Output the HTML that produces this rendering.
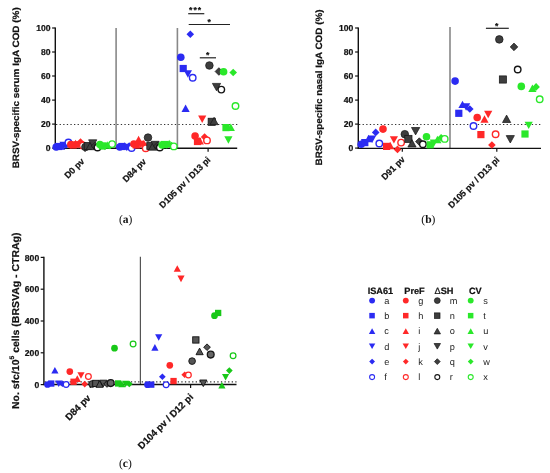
<!DOCTYPE html>
<html><head><meta charset="utf-8"><style>
html,body{margin:0;padding:0;background:#fff;}
svg{display:block;} text{text-rendering:geometricPrecision;}
</style></head><body>
<svg width="550" height="473" viewBox="0 0 550 473">
<rect width="550" height="473" fill="#fff"/>
<line x1="55.3" y1="27.5" x2="55.3" y2="148.6" stroke="#111" stroke-width="1.4"/>
<line x1="52.1" y1="28.0" x2="55.3" y2="28.0" stroke="#111" stroke-width="1.2"/>
<text x="50.6" y="31.1" text-anchor="end" font-size="8.6" font-weight="bold" font-family="Liberation Sans, Arial, sans-serif" fill="#111" stroke="#111" stroke-width="0.22">100</text>
<line x1="52.1" y1="52.0" x2="55.3" y2="52.0" stroke="#111" stroke-width="1.2"/>
<text x="50.6" y="55.1" text-anchor="end" font-size="8.6" font-weight="bold" font-family="Liberation Sans, Arial, sans-serif" fill="#111" stroke="#111" stroke-width="0.22">80</text>
<line x1="52.1" y1="76.0" x2="55.3" y2="76.0" stroke="#111" stroke-width="1.2"/>
<text x="50.6" y="79.1" text-anchor="end" font-size="8.6" font-weight="bold" font-family="Liberation Sans, Arial, sans-serif" fill="#111" stroke="#111" stroke-width="0.22">60</text>
<line x1="52.1" y1="100.1" x2="55.3" y2="100.1" stroke="#111" stroke-width="1.2"/>
<text x="50.6" y="103.2" text-anchor="end" font-size="8.6" font-weight="bold" font-family="Liberation Sans, Arial, sans-serif" fill="#111" stroke="#111" stroke-width="0.22">40</text>
<line x1="52.1" y1="124.1" x2="55.3" y2="124.1" stroke="#111" stroke-width="1.2"/>
<text x="50.6" y="127.2" text-anchor="end" font-size="8.6" font-weight="bold" font-family="Liberation Sans, Arial, sans-serif" fill="#111" stroke="#111" stroke-width="0.22">20</text>
<line x1="52.1" y1="148.1" x2="55.3" y2="148.1" stroke="#111" stroke-width="1.2"/>
<text x="50.6" y="151.2" text-anchor="end" font-size="8.6" font-weight="bold" font-family="Liberation Sans, Arial, sans-serif" fill="#111" stroke="#111" stroke-width="0.22">0</text>
<line x1="116.1" y1="28" x2="116.1" y2="148" stroke="#888" stroke-width="1.6"/>
<line x1="177.4" y1="28" x2="177.4" y2="148" stroke="#888" stroke-width="1.6"/>
<line x1="56" y1="124.5" x2="238" y2="124.5" stroke="#333" stroke-width="1.2" stroke-dasharray="1.3 2.3"/>
<line x1="54.6" y1="148.2" x2="237.2" y2="148.2" stroke="#111" stroke-width="1.4"/>
<line x1="85.0" y1="148" x2="85.0" y2="151.8" stroke="#111" stroke-width="1.2"/>
<line x1="146.8" y1="148" x2="146.8" y2="151.8" stroke="#111" stroke-width="1.2"/>
<line x1="208.1" y1="148" x2="208.1" y2="151.8" stroke="#111" stroke-width="1.2"/>
<circle cx="56.2" cy="147.0" r="3.80" fill="#2b2bf2"/>
<rect x="55.0" y="142.9" width="7.2" height="7.2" fill="#2b2bf2"/>
<polygon points="61.1,142.3 65.2,149.7 57.0,149.7" fill="#2b2bf2"/>
<polygon points="59.4,141.8 67.6,141.8 63.5,149.2" fill="#2b2bf2"/>
<polygon points="65.9,141.2 69.7,145.0 65.9,148.8 62.1,145.0" fill="#2b2bf2"/>
<circle cx="68.4" cy="142.5" r="3.25" fill="#fff" stroke="#2b2bf2" stroke-width="1.40"/>
<circle cx="70.8" cy="144.5" r="3.80" fill="#ff2828"/>
<rect x="69.6" y="141.4" width="7.2" height="7.2" fill="#ff2828"/>
<polygon points="75.6,139.8 79.7,147.2 71.5,147.2" fill="#ff2828"/>
<polygon points="74.0,141.3 82.2,141.3 78.1,148.7" fill="#ff2828"/>
<polygon points="80.5,138.2 84.3,142.0 80.5,145.8 76.7,142.0" fill="#ff2828"/>
<circle cx="82.9" cy="145.5" r="3.25" fill="#fff" stroke="#ff2828" stroke-width="1.40"/>
<circle cx="85.4" cy="147.0" r="3.80" fill="#3e3e3e" stroke="#151515" stroke-width="0.7"/>
<rect x="84.2" y="142.4" width="7.2" height="7.2" fill="#3e3e3e" stroke="#151515" stroke-width="0.7"/>
<polygon points="90.2,142.3 94.3,149.7 86.1,149.7" fill="#3e3e3e" stroke="#151515" stroke-width="0.7"/>
<polygon points="88.6,139.8 96.8,139.8 92.7,147.2" fill="#3e3e3e" stroke="#151515" stroke-width="0.7"/>
<polygon points="95.1,142.2 98.9,146.0 95.1,149.8 91.3,146.0" fill="#3e3e3e" stroke="#151515" stroke-width="0.7"/>
<circle cx="97.5" cy="147.5" r="3.25" fill="#fff" stroke="#151515" stroke-width="1.40"/>
<circle cx="99.9" cy="144.5" r="3.80" fill="#2ae82a"/>
<rect x="98.8" y="142.4" width="7.2" height="7.2" fill="#2ae82a"/>
<polygon points="100.7,142.8 108.9,142.8 104.8,150.2" fill="#2ae82a"/>
<polygon points="107.2,141.3 111.3,148.7 103.1,148.7" fill="#2ae82a"/>
<polygon points="109.7,141.7 113.5,145.5 109.7,149.3 105.9,145.5" fill="#2ae82a"/>
<circle cx="112.1" cy="144.1" r="3.25" fill="#fff" stroke="#2ae82a" stroke-width="1.40"/>
<circle cx="119.8" cy="147.0" r="3.80" fill="#2b2bf2"/>
<rect x="118.5" y="142.9" width="7.2" height="7.2" fill="#2b2bf2"/>
<polygon points="124.5,142.3 128.6,149.7 120.4,149.7" fill="#2b2bf2"/>
<polygon points="122.8,143.8 130.9,143.8 126.8,151.2" fill="#2b2bf2"/>
<polygon points="129.2,142.2 133.0,146.0 129.2,149.8 125.4,146.0" fill="#2b2bf2"/>
<circle cx="131.6" cy="148.0" r="3.25" fill="#fff" stroke="#2b2bf2" stroke-width="1.40"/>
<circle cx="133.9" cy="144.0" r="3.80" fill="#ff2828"/>
<rect x="132.7" y="141.4" width="7.2" height="7.2" fill="#ff2828"/>
<polygon points="138.6,135.8 142.7,143.2 134.5,143.2" fill="#ff2828"/>
<polygon points="136.8,140.8 145.0,140.8 140.9,148.2" fill="#ff2828"/>
<polygon points="143.3,140.2 147.1,144.0 143.3,147.8 139.5,144.0" fill="#ff2828"/>
<circle cx="145.7" cy="148.2" r="3.25" fill="#fff" stroke="#ff2828" stroke-width="1.40"/>
<circle cx="148.0" cy="137.6" r="3.80" fill="#3e3e3e" stroke="#151515" stroke-width="0.7"/>
<rect x="146.8" y="142.4" width="7.2" height="7.2" fill="#3e3e3e" stroke="#151515" stroke-width="0.7"/>
<polygon points="152.7,142.8 156.8,150.2 148.6,150.2" fill="#3e3e3e" stroke="#151515" stroke-width="0.7"/>
<polygon points="151.0,141.3 159.2,141.3 155.1,148.7" fill="#3e3e3e" stroke="#151515" stroke-width="0.7"/>
<polygon points="157.4,142.2 161.2,146.0 157.4,149.8 153.6,146.0" fill="#3e3e3e" stroke="#151515" stroke-width="0.7"/>
<circle cx="159.8" cy="147.5" r="3.25" fill="#fff" stroke="#151515" stroke-width="1.40"/>
<circle cx="162.1" cy="145.0" r="3.80" fill="#2ae82a"/>
<rect x="160.8" y="140.9" width="7.2" height="7.2" fill="#2ae82a"/>
<polygon points="162.7,141.3 170.9,141.3 166.8,148.7" fill="#2ae82a"/>
<polygon points="169.2,139.8 173.2,147.2 165.1,147.2" fill="#2ae82a"/>
<polygon points="171.5,141.7 175.3,145.5 171.5,149.3 167.7,145.5" fill="#2ae82a"/>
<circle cx="173.8" cy="146.4" r="3.25" fill="#fff" stroke="#2ae82a" stroke-width="1.40"/>
<circle cx="180.8" cy="57.2" r="3.80" fill="#2b2bf2"/>
<rect x="179.6" y="64.9" width="7.2" height="7.2" fill="#2b2bf2"/>
<polygon points="185.6,104.5 189.7,111.9 181.5,111.9" fill="#2b2bf2"/>
<polygon points="183.8,70.3 192.0,70.3 187.9,77.7" fill="#2b2bf2"/>
<polygon points="190.3,30.4 194.1,34.2 190.3,38.0 186.5,34.2" fill="#2b2bf2"/>
<circle cx="192.7" cy="77.8" r="3.25" fill="#fff" stroke="#2b2bf2" stroke-width="1.40"/>
<circle cx="195.1" cy="136.0" r="3.80" fill="#ff2828"/>
<rect x="193.9" y="137.9" width="7.2" height="7.2" fill="#ff2828"/>
<polygon points="199.8,137.0 203.9,144.4 195.7,144.4" fill="#ff2828"/>
<polygon points="198.1,115.6 206.3,115.6 202.2,123.0" fill="#ff2828"/>
<polygon points="204.6,133.2 208.4,137.0 204.6,140.8 200.8,137.0" fill="#ff2828"/>
<circle cx="207.0" cy="140.4" r="3.25" fill="#fff" stroke="#ff2828" stroke-width="1.40"/>
<circle cx="209.4" cy="65.5" r="3.80" fill="#3e3e3e" stroke="#151515" stroke-width="0.7"/>
<rect x="208.1" y="118.2" width="7.2" height="7.2" fill="#3e3e3e" stroke="#151515" stroke-width="0.7"/>
<polygon points="214.1,117.3 218.2,124.7 210.0,124.7" fill="#3e3e3e" stroke="#151515" stroke-width="0.7"/>
<polygon points="212.4,83.4 220.6,83.4 216.5,90.8" fill="#3e3e3e" stroke="#151515" stroke-width="0.7"/>
<polygon points="218.9,67.7 222.7,71.5 218.9,75.3 215.1,71.5" fill="#3e3e3e" stroke="#151515" stroke-width="0.7"/>
<circle cx="221.3" cy="89.6" r="3.25" fill="#fff" stroke="#151515" stroke-width="1.40"/>
<circle cx="223.6" cy="71.8" r="3.80" fill="#2ae82a"/>
<rect x="222.4" y="124.0" width="7.2" height="7.2" fill="#2ae82a"/>
<polygon points="224.3,136.3 232.5,136.3 228.4,143.7" fill="#2ae82a"/>
<polygon points="230.8,123.6 234.9,131.0 226.7,131.0" fill="#2ae82a"/>
<polygon points="233.2,68.7 237.0,72.5 233.2,76.3 229.4,72.5" fill="#2ae82a"/>
<circle cx="235.5" cy="106.0" r="3.25" fill="#fff" stroke="#2ae82a" stroke-width="1.40"/>
<line x1="188.2" y1="13.7" x2="204.3" y2="13.7" stroke="#222" stroke-width="1.2"/>
<line x1="188.7" y1="24.5" x2="230" y2="24.5" stroke="#222" stroke-width="1.2"/>
<line x1="199.8" y1="57.8" x2="216" y2="57.8" stroke="#222" stroke-width="1.2"/>
<text x="195.6" y="13.4" text-anchor="middle" font-size="8.6" letter-spacing="1" font-weight="bold" font-family="Liberation Sans, Arial, sans-serif" fill="#111" stroke="#111" stroke-width="0.22">***</text>
<text x="209.2" y="24.6" text-anchor="middle" font-size="8.6" font-weight="bold" font-family="Liberation Sans, Arial, sans-serif" fill="#111" stroke="#111" stroke-width="0.22">*</text>
<text x="207.6" y="57.5" text-anchor="middle" font-size="8.6" font-weight="bold" font-family="Liberation Sans, Arial, sans-serif" fill="#111" stroke="#111" stroke-width="0.22">*</text>
<text transform="translate(18.9,87.8) rotate(-90)" text-anchor="middle" font-size="9.2" textLength="161" lengthAdjust="spacingAndGlyphs" font-weight="bold" font-family="Liberation Sans, Arial, sans-serif" fill="#111" stroke="#111" stroke-width="0.22">BRSV-specific serum IgA COD (%)</text>
<text transform="translate(85,162) rotate(-45)" text-anchor="end" font-size="8.9" font-weight="bold" font-family="Liberation Sans, Arial, sans-serif" fill="#111" stroke="#111" stroke-width="0.22">D0 pv</text>
<text transform="translate(146.8,162.2) rotate(-45)" text-anchor="end" font-size="8.9" font-weight="bold" font-family="Liberation Sans, Arial, sans-serif" fill="#111" stroke="#111" stroke-width="0.22">D84 pv</text>
<text transform="translate(211,160.5) rotate(-45)" text-anchor="end" font-size="8.9" font-weight="bold" font-family="Liberation Sans, Arial, sans-serif" fill="#111" stroke="#111" stroke-width="0.22">D105 pv / D13 pi</text>
<text x="125.6" y="223.2" text-anchor="middle" font-size="11.5" font-family="Liberation Serif, serif" fill="#111">(<tspan font-weight="bold">a</tspan>)</text>
<line x1="358.3" y1="27.5" x2="358.3" y2="148.6" stroke="#111" stroke-width="1.4"/>
<line x1="355.1" y1="28.0" x2="358.3" y2="28.0" stroke="#111" stroke-width="1.2"/>
<text x="353.4" y="31.1" text-anchor="end" font-size="8.6" font-weight="bold" font-family="Liberation Sans, Arial, sans-serif" fill="#111" stroke="#111" stroke-width="0.22">100</text>
<line x1="355.1" y1="52.0" x2="358.3" y2="52.0" stroke="#111" stroke-width="1.2"/>
<text x="353.4" y="55.1" text-anchor="end" font-size="8.6" font-weight="bold" font-family="Liberation Sans, Arial, sans-serif" fill="#111" stroke="#111" stroke-width="0.22">80</text>
<line x1="355.1" y1="76.0" x2="358.3" y2="76.0" stroke="#111" stroke-width="1.2"/>
<text x="353.4" y="79.1" text-anchor="end" font-size="8.6" font-weight="bold" font-family="Liberation Sans, Arial, sans-serif" fill="#111" stroke="#111" stroke-width="0.22">60</text>
<line x1="355.1" y1="100.1" x2="358.3" y2="100.1" stroke="#111" stroke-width="1.2"/>
<text x="353.4" y="103.2" text-anchor="end" font-size="8.6" font-weight="bold" font-family="Liberation Sans, Arial, sans-serif" fill="#111" stroke="#111" stroke-width="0.22">40</text>
<line x1="355.1" y1="124.1" x2="358.3" y2="124.1" stroke="#111" stroke-width="1.2"/>
<text x="353.4" y="127.2" text-anchor="end" font-size="8.6" font-weight="bold" font-family="Liberation Sans, Arial, sans-serif" fill="#111" stroke="#111" stroke-width="0.22">20</text>
<line x1="355.1" y1="148.1" x2="358.3" y2="148.1" stroke="#111" stroke-width="1.2"/>
<text x="353.4" y="151.2" text-anchor="end" font-size="8.6" font-weight="bold" font-family="Liberation Sans, Arial, sans-serif" fill="#111" stroke="#111" stroke-width="0.22">0</text>
<line x1="450" y1="27" x2="450" y2="148" stroke="#888" stroke-width="1.6"/>
<line x1="359" y1="124.5" x2="541" y2="124.5" stroke="#333" stroke-width="1.2" stroke-dasharray="1.3 2.3"/>
<line x1="357.6" y1="148.4" x2="541" y2="148.4" stroke="#111" stroke-width="1.4"/>
<line x1="402.3" y1="148" x2="402.3" y2="151.8" stroke="#111" stroke-width="1.2"/>
<line x1="496.8" y1="148" x2="496.8" y2="151.8" stroke="#111" stroke-width="1.2"/>
<circle cx="361.2" cy="144.2" r="3.80" fill="#2b2bf2"/>
<rect x="361.2" y="139.0" width="7.2" height="7.2" fill="#2b2bf2"/>
<polygon points="368.5,134.8 372.6,142.2 364.4,142.2" fill="#2b2bf2"/>
<polygon points="368.0,135.6 376.2,135.6 372.1,143.0" fill="#2b2bf2"/>
<polygon points="375.7,128.6 379.5,132.4 375.7,136.2 371.9,132.4" fill="#2b2bf2"/>
<circle cx="379.3" cy="143.5" r="3.25" fill="#fff" stroke="#2b2bf2" stroke-width="1.40"/>
<circle cx="383.0" cy="129.1" r="3.80" fill="#ff2828"/>
<rect x="383.0" y="142.8" width="7.2" height="7.2" fill="#ff2828"/>
<polygon points="390.2,141.8 394.3,149.2 386.1,149.2" fill="#ff2828"/>
<polygon points="389.8,136.2 398.0,136.2 393.9,143.6" fill="#ff2828"/>
<polygon points="397.5,145.6 401.3,149.4 397.5,153.2 393.7,149.4" fill="#ff2828"/>
<circle cx="401.1" cy="142.6" r="3.25" fill="#fff" stroke="#ff2828" stroke-width="1.40"/>
<circle cx="404.8" cy="134.2" r="3.80" fill="#3e3e3e" stroke="#151515" stroke-width="0.7"/>
<rect x="404.8" y="135.3" width="7.2" height="7.2" fill="#3e3e3e" stroke="#151515" stroke-width="0.7"/>
<polygon points="412.0,139.6 416.1,147.0 407.9,147.0" fill="#3e3e3e" stroke="#151515" stroke-width="0.7"/>
<polygon points="411.5,127.5 419.8,127.5 415.6,134.9" fill="#3e3e3e" stroke="#151515" stroke-width="0.7"/>
<polygon points="419.3,137.8 423.1,141.6 419.3,145.4 415.5,141.6" fill="#3e3e3e" stroke="#151515" stroke-width="0.7"/>
<circle cx="422.9" cy="144.3" r="3.25" fill="#fff" stroke="#151515" stroke-width="1.40"/>
<circle cx="426.5" cy="136.8" r="3.80" fill="#2ae82a"/>
<rect x="426.6" y="141.2" width="7.2" height="7.2" fill="#2ae82a"/>
<polygon points="429.7,139.6 437.9,139.6 433.8,147.0" fill="#2ae82a"/>
<polygon points="437.4,135.8 441.5,143.2 433.3,143.2" fill="#2ae82a"/>
<polygon points="441.1,134.0 444.9,137.8 441.1,141.6 437.3,137.8" fill="#2ae82a"/>
<circle cx="444.7" cy="138.9" r="3.25" fill="#fff" stroke="#2ae82a" stroke-width="1.40"/>
<circle cx="455.1" cy="81.1" r="3.80" fill="#2b2bf2"/>
<rect x="455.2" y="109.7" width="7.2" height="7.2" fill="#2b2bf2"/>
<polygon points="462.5,100.7 466.6,108.1 458.4,108.1" fill="#2b2bf2"/>
<polygon points="462.0,103.3 470.2,103.3 466.1,110.7" fill="#2b2bf2"/>
<polygon points="469.8,105.2 473.6,109.0 469.8,112.8 466.0,109.0" fill="#2b2bf2"/>
<circle cx="473.5" cy="126.0" r="3.25" fill="#fff" stroke="#2b2bf2" stroke-width="1.40"/>
<circle cx="477.2" cy="117.5" r="3.80" fill="#ff2828"/>
<rect x="477.3" y="131.0" width="7.2" height="7.2" fill="#ff2828"/>
<polygon points="484.5,115.3 488.6,122.7 480.4,122.7" fill="#ff2828"/>
<polygon points="484.1,110.8 492.3,110.8 488.2,118.2" fill="#ff2828"/>
<polygon points="491.9,141.2 495.7,145.0 491.9,148.8 488.1,145.0" fill="#ff2828"/>
<circle cx="495.6" cy="134.3" r="3.25" fill="#fff" stroke="#ff2828" stroke-width="1.40"/>
<circle cx="499.3" cy="39.4" r="3.80" fill="#3e3e3e" stroke="#151515" stroke-width="0.7"/>
<rect x="499.3" y="75.9" width="7.2" height="7.2" fill="#3e3e3e" stroke="#151515" stroke-width="0.7"/>
<polygon points="506.6,115.1 510.7,122.5 502.5,122.5" fill="#3e3e3e" stroke="#151515" stroke-width="0.7"/>
<polygon points="506.2,135.6 514.4,135.6 510.3,143.0" fill="#3e3e3e" stroke="#151515" stroke-width="0.7"/>
<polygon points="514.0,43.1 517.8,46.9 514.0,50.7 510.2,46.9" fill="#3e3e3e" stroke="#151515" stroke-width="0.7"/>
<circle cx="517.7" cy="69.5" r="3.25" fill="#fff" stroke="#151515" stroke-width="1.40"/>
<circle cx="521.3" cy="86.4" r="3.80" fill="#2ae82a"/>
<rect x="521.4" y="130.4" width="7.2" height="7.2" fill="#2ae82a"/>
<polygon points="524.6,121.7 532.8,121.7 528.7,129.1" fill="#2ae82a"/>
<polygon points="532.4,84.6 536.5,92.0 528.3,92.0" fill="#2ae82a"/>
<polygon points="536.1,83.1 539.9,86.9 536.1,90.7 532.3,86.9" fill="#2ae82a"/>
<circle cx="539.7" cy="99.3" r="3.25" fill="#fff" stroke="#2ae82a" stroke-width="1.40"/>
<line x1="485.9" y1="28.3" x2="508.8" y2="28.3" stroke="#222" stroke-width="1.2"/>
<text x="496.6" y="28.5" text-anchor="middle" font-size="8.6" font-weight="bold" font-family="Liberation Sans, Arial, sans-serif" fill="#111" stroke="#111" stroke-width="0.22">*</text>
<text transform="translate(322.4,87.5) rotate(-90)" text-anchor="middle" font-size="9.2" textLength="156" lengthAdjust="spacingAndGlyphs" font-weight="bold" font-family="Liberation Sans, Arial, sans-serif" fill="#111" stroke="#111" stroke-width="0.22">BRSV-specific nasal IgA COD (%)</text>
<text transform="translate(405.5,160) rotate(-45)" text-anchor="end" font-size="8.9" font-weight="bold" font-family="Liberation Sans, Arial, sans-serif" fill="#111" stroke="#111" stroke-width="0.22">D91 pv</text>
<text transform="translate(500,160.5) rotate(-45)" text-anchor="end" font-size="8.9" font-weight="bold" font-family="Liberation Sans, Arial, sans-serif" fill="#111" stroke="#111" stroke-width="0.22">D105 pv / D13 pi</text>
<text x="428.4" y="223.2" text-anchor="middle" font-size="11.5" font-family="Liberation Serif, serif" fill="#111">(<tspan font-weight="bold">b</tspan>)</text>
<line x1="43.9" y1="256.8" x2="43.9" y2="385" stroke="#111" stroke-width="1.4"/>
<line x1="40.7" y1="257.4" x2="43.9" y2="257.4" stroke="#111" stroke-width="1.2"/>
<text x="39.2" y="260.5" text-anchor="end" font-size="8.6" font-weight="bold" font-family="Liberation Sans, Arial, sans-serif" fill="#111" stroke="#111" stroke-width="0.22">800</text>
<line x1="40.7" y1="289.2" x2="43.9" y2="289.2" stroke="#111" stroke-width="1.2"/>
<text x="39.2" y="292.3" text-anchor="end" font-size="8.6" font-weight="bold" font-family="Liberation Sans, Arial, sans-serif" fill="#111" stroke="#111" stroke-width="0.22">600</text>
<line x1="40.7" y1="321.0" x2="43.9" y2="321.0" stroke="#111" stroke-width="1.2"/>
<text x="39.2" y="324.1" text-anchor="end" font-size="8.6" font-weight="bold" font-family="Liberation Sans, Arial, sans-serif" fill="#111" stroke="#111" stroke-width="0.22">400</text>
<line x1="40.7" y1="352.8" x2="43.9" y2="352.8" stroke="#111" stroke-width="1.2"/>
<text x="39.2" y="355.9" text-anchor="end" font-size="8.6" font-weight="bold" font-family="Liberation Sans, Arial, sans-serif" fill="#111" stroke="#111" stroke-width="0.22">200</text>
<line x1="40.7" y1="384.6" x2="43.9" y2="384.6" stroke="#111" stroke-width="1.2"/>
<text x="39.2" y="387.7" text-anchor="end" font-size="8.6" font-weight="bold" font-family="Liberation Sans, Arial, sans-serif" fill="#111" stroke="#111" stroke-width="0.22">0</text>
<line x1="140.4" y1="256.7" x2="140.4" y2="384" stroke="#555" stroke-width="1.2"/>
<line x1="44.5" y1="381.9" x2="236.5" y2="381.9" stroke="#333" stroke-width="1.2" stroke-dasharray="1.3 2.3"/>
<line x1="43.2" y1="384.5" x2="236.5" y2="384.5" stroke="#111" stroke-width="1.4"/>
<line x1="90.3" y1="384" x2="90.3" y2="388" stroke="#111" stroke-width="1.2"/>
<line x1="190.6" y1="384" x2="190.6" y2="388" stroke="#111" stroke-width="1.2"/>
<circle cx="47.5" cy="384.5" r="3.34" fill="#2b2bf2"/>
<rect x="48.1" y="380.4" width="6.3" height="6.3" fill="#2b2bf2"/>
<polygon points="54.9,366.9 58.5,373.5 51.3,373.5" fill="#2b2bf2"/>
<polygon points="55.1,380.5 62.3,380.5 58.7,387.1" fill="#2b2bf2"/>
<polygon points="62.4,380.5 65.7,383.8 62.4,387.1 59.0,383.8" fill="#2b2bf2"/>
<circle cx="66.1" cy="384.4" r="2.86" fill="#fff" stroke="#2b2bf2" stroke-width="1.23"/>
<circle cx="69.8" cy="371.6" r="3.34" fill="#ff2828"/>
<rect x="70.4" y="378.6" width="6.3" height="6.3" fill="#ff2828"/>
<polygon points="77.3,375.3 80.9,381.9 73.7,381.9" fill="#ff2828"/>
<polygon points="77.4,372.2 84.6,372.2 81.0,378.8" fill="#ff2828"/>
<polygon points="84.7,380.8 88.0,384.1 84.7,387.4 81.4,384.1" fill="#ff2828"/>
<circle cx="88.4" cy="376.4" r="2.86" fill="#fff" stroke="#ff2828" stroke-width="1.23"/>
<circle cx="92.1" cy="384.0" r="3.34" fill="#555" stroke="#111" stroke-width="0.9"/>
<rect x="92.7" y="380.3" width="6.3" height="6.3" fill="#555" stroke="#111" stroke-width="0.9"/>
<polygon points="99.6,380.7 103.2,387.3 96.0,387.3" fill="#555" stroke="#111" stroke-width="0.9"/>
<polygon points="99.7,380.2 106.9,380.2 103.3,386.8" fill="#555" stroke="#111" stroke-width="0.9"/>
<polygon points="107.0,380.7 110.4,384.0 107.0,387.3 103.7,384.0" fill="#555" stroke="#111" stroke-width="0.9"/>
<circle cx="110.7" cy="383.1" r="3.40" fill="#666" stroke="#151515" stroke-width="1.30"/>
<circle cx="114.5" cy="348.2" r="3.34" fill="#18c818"/>
<rect x="115.0" y="380.3" width="6.3" height="6.3" fill="#18c818"/>
<polygon points="121.9,380.7 125.5,387.3 118.3,387.3" fill="#18c818"/>
<polygon points="122.0,380.7 129.2,380.7 125.6,387.3" fill="#18c818"/>
<polygon points="129.3,380.7 132.7,384.0 129.3,387.3 126.0,384.0" fill="#18c818"/>
<circle cx="133.1" cy="344.0" r="2.86" fill="#fff" stroke="#18c818" stroke-width="1.23"/>
<circle cx="147.5" cy="384.7" r="3.34" fill="#2b2bf2"/>
<rect x="148.1" y="381.5" width="6.3" height="6.3" fill="#2b2bf2"/>
<polygon points="154.9,344.1 158.5,350.7 151.3,350.7" fill="#2b2bf2"/>
<polygon points="155.1,334.2 162.3,334.2 158.7,340.8" fill="#2b2bf2"/>
<polygon points="162.4,373.5 165.7,376.8 162.4,380.1 159.0,376.8" fill="#2b2bf2"/>
<circle cx="166.1" cy="384.7" r="2.86" fill="#fff" stroke="#2b2bf2" stroke-width="1.23"/>
<circle cx="169.8" cy="365.3" r="3.34" fill="#ff2828"/>
<rect x="170.4" y="377.9" width="6.3" height="6.3" fill="#ff2828"/>
<polygon points="177.3,265.2 180.9,271.8 173.7,271.8" fill="#ff2828"/>
<polygon points="177.4,275.6 184.6,275.6 181.0,282.2" fill="#ff2828"/>
<polygon points="184.7,371.5 188.0,374.8 184.7,378.1 181.4,374.8" fill="#ff2828"/>
<circle cx="188.4" cy="375.0" r="2.86" fill="#fff" stroke="#ff2828" stroke-width="1.23"/>
<circle cx="192.1" cy="361.1" r="3.34" fill="#555" stroke="#111" stroke-width="0.9"/>
<rect x="192.7" y="336.8" width="6.3" height="6.3" fill="#555" stroke="#111" stroke-width="0.9"/>
<polygon points="199.6,348.1 203.2,354.7 196.0,354.7" fill="#555" stroke="#111" stroke-width="0.9"/>
<polygon points="199.7,380.0 206.9,380.0 203.3,386.6" fill="#555" stroke="#111" stroke-width="0.9"/>
<polygon points="207.0,343.9 210.4,347.2 207.0,350.5 203.7,347.2" fill="#555" stroke="#111" stroke-width="0.9"/>
<circle cx="210.7" cy="354.6" r="3.40" fill="#666" stroke="#151515" stroke-width="1.30"/>
<circle cx="214.5" cy="315.7" r="3.34" fill="#18c818"/>
<rect x="215.0" y="309.8" width="6.3" height="6.3" fill="#18c818"/>
<polygon points="221.9,382.0 225.5,388.6 218.3,388.6" fill="#18c818"/>
<polygon points="222.0,374.0 229.2,374.0 225.6,380.6" fill="#18c818"/>
<polygon points="229.3,367.3 232.7,370.6 229.3,373.9 226.0,370.6" fill="#18c818"/>
<circle cx="233.1" cy="355.8" r="2.86" fill="#fff" stroke="#18c818" stroke-width="1.23"/>
<text transform="translate(18.9,409) rotate(-90)" font-size="10" textLength="176.5" lengthAdjust="spacingAndGlyphs" font-weight="bold" font-family="Liberation Sans, Arial, sans-serif" fill="#111" stroke="#111" stroke-width="0.22">No. sfc/10<tspan dy="-4.6" font-size="6.4">5</tspan><tspan dy="4.6"> cells (BRSVAg - CTRAg)</tspan></text>
<text transform="translate(91.4,398.7) rotate(-45)" text-anchor="end" font-size="9.6" font-weight="bold" font-family="Liberation Sans, Arial, sans-serif" fill="#111" stroke="#111" stroke-width="0.22">D84 pv</text>
<text transform="translate(193.8,397.7) rotate(-45)" text-anchor="end" font-size="9.6" font-weight="bold" font-family="Liberation Sans, Arial, sans-serif" fill="#111" stroke="#111" stroke-width="0.22">D104 pv / D12 pi</text>
<text x="125.4" y="467.1" text-anchor="middle" font-size="11.5" font-family="Liberation Serif, serif" fill="#111">(<tspan font-weight="bold">c</tspan>)</text>
<text x="380.4" y="294.2" text-anchor="middle" font-size="9.2" font-weight="bold" font-family="Liberation Sans, Arial, sans-serif" fill="#111" stroke="#111" stroke-width="0.22">ISA61</text>
<text x="414.5" y="294.2" text-anchor="middle" font-size="9.2" font-weight="bold" font-family="Liberation Sans, Arial, sans-serif" fill="#111" stroke="#111" stroke-width="0.22">PreF</text>
<text x="444" y="294.2" text-anchor="middle" font-size="9.2" font-weight="bold" font-family="Liberation Sans, Arial, sans-serif" fill="#111" stroke="#111" stroke-width="0.22"><tspan font-weight="normal">&#916;</tspan>SH</text>
<text x="475.3" y="294.2" text-anchor="middle" font-size="9.2" font-weight="bold" font-family="Liberation Sans, Arial, sans-serif" fill="#111" stroke="#111" stroke-width="0.22">CV</text>
<circle cx="372.1" cy="300.6" r="2.93" fill="#2b2bf2"/>
<text x="384.3" y="303.8" font-size="9.2" font-family="Liberation Sans, Arial, sans-serif" fill="#222">a</text>
<rect x="369.3" y="312.9" width="5.5" height="5.5" fill="#2b2bf2"/>
<text x="384.3" y="318.9" font-size="9.2" font-family="Liberation Sans, Arial, sans-serif" fill="#222">b</text>
<polygon points="372.1,328.3 375.3,333.9 368.9,333.9" fill="#2b2bf2"/>
<text x="384.3" y="334.3" font-size="9.2" font-family="Liberation Sans, Arial, sans-serif" fill="#222">c</text>
<polygon points="368.9,343.5 375.3,343.5 372.1,349.1" fill="#2b2bf2"/>
<text x="384.3" y="349.5" font-size="9.2" font-family="Liberation Sans, Arial, sans-serif" fill="#222">d</text>
<polygon points="372.1,358.7 375.0,361.6 372.1,364.5 369.2,361.6" fill="#2b2bf2"/>
<text x="384.3" y="364.8" font-size="9.2" font-family="Liberation Sans, Arial, sans-serif" fill="#222">e</text>
<circle cx="372.1" cy="377.1" r="2.50" fill="#fff" stroke="#2b2bf2" stroke-width="1.08"/>
<text x="384.3" y="380.3" font-size="9.2" font-family="Liberation Sans, Arial, sans-serif" fill="#222">f</text>
<circle cx="405.8" cy="300.6" r="2.93" fill="#ff2828"/>
<text x="418.3" y="303.8" font-size="9.2" font-family="Liberation Sans, Arial, sans-serif" fill="#222">g</text>
<rect x="403.0" y="312.9" width="5.5" height="5.5" fill="#ff2828"/>
<text x="418.3" y="318.9" font-size="9.2" font-family="Liberation Sans, Arial, sans-serif" fill="#222">h</text>
<polygon points="405.8,328.3 409.0,333.9 402.6,333.9" fill="#ff2828"/>
<text x="418.3" y="334.3" font-size="9.2" font-family="Liberation Sans, Arial, sans-serif" fill="#222">i</text>
<polygon points="402.6,343.5 409.0,343.5 405.8,349.1" fill="#ff2828"/>
<text x="418.3" y="349.5" font-size="9.2" font-family="Liberation Sans, Arial, sans-serif" fill="#222">j</text>
<polygon points="405.8,358.7 408.7,361.6 405.8,364.5 402.9,361.6" fill="#ff2828"/>
<text x="418.3" y="364.8" font-size="9.2" font-family="Liberation Sans, Arial, sans-serif" fill="#222">k</text>
<circle cx="405.8" cy="377.1" r="2.50" fill="#fff" stroke="#ff2828" stroke-width="1.08"/>
<text x="418.3" y="380.3" font-size="9.2" font-family="Liberation Sans, Arial, sans-serif" fill="#222">l</text>
<circle cx="437.3" cy="300.6" r="2.93" fill="#3e3e3e" stroke="#151515" stroke-width="0.7"/>
<text x="449.8" y="303.8" font-size="9.2" font-family="Liberation Sans, Arial, sans-serif" fill="#222">m</text>
<rect x="434.5" y="312.9" width="5.5" height="5.5" fill="#3e3e3e" stroke="#151515" stroke-width="0.7"/>
<text x="449.8" y="318.9" font-size="9.2" font-family="Liberation Sans, Arial, sans-serif" fill="#222">n</text>
<polygon points="437.3,328.3 440.5,333.9 434.1,333.9" fill="#3e3e3e" stroke="#151515" stroke-width="0.7"/>
<text x="449.8" y="334.3" font-size="9.2" font-family="Liberation Sans, Arial, sans-serif" fill="#222">o</text>
<polygon points="434.1,343.5 440.5,343.5 437.3,349.1" fill="#3e3e3e" stroke="#151515" stroke-width="0.7"/>
<text x="449.8" y="349.5" font-size="9.2" font-family="Liberation Sans, Arial, sans-serif" fill="#222">p</text>
<polygon points="437.3,358.7 440.2,361.6 437.3,364.5 434.4,361.6" fill="#3e3e3e" stroke="#151515" stroke-width="0.7"/>
<text x="449.8" y="364.8" font-size="9.2" font-family="Liberation Sans, Arial, sans-serif" fill="#222">q</text>
<circle cx="437.3" cy="377.1" r="2.50" fill="#fff" stroke="#151515" stroke-width="1.08"/>
<text x="449.8" y="380.3" font-size="9.2" font-family="Liberation Sans, Arial, sans-serif" fill="#222">r</text>
<circle cx="470.7" cy="300.6" r="2.93" fill="#2ae82a"/>
<text x="483.2" y="303.8" font-size="9.2" font-family="Liberation Sans, Arial, sans-serif" fill="#222">s</text>
<rect x="467.9" y="312.9" width="5.5" height="5.5" fill="#2ae82a"/>
<text x="483.2" y="318.9" font-size="9.2" font-family="Liberation Sans, Arial, sans-serif" fill="#222">t</text>
<polygon points="470.7,328.3 473.9,333.9 467.5,333.9" fill="#2ae82a"/>
<text x="483.2" y="334.3" font-size="9.2" font-family="Liberation Sans, Arial, sans-serif" fill="#222">u</text>
<polygon points="467.5,343.5 473.9,343.5 470.7,349.1" fill="#2ae82a"/>
<text x="483.2" y="349.5" font-size="9.2" font-family="Liberation Sans, Arial, sans-serif" fill="#222">v</text>
<polygon points="470.7,358.7 473.6,361.6 470.7,364.5 467.8,361.6" fill="#2ae82a"/>
<text x="483.2" y="364.8" font-size="9.2" font-family="Liberation Sans, Arial, sans-serif" fill="#222">w</text>
<circle cx="470.7" cy="377.1" r="2.50" fill="#fff" stroke="#2ae82a" stroke-width="1.08"/>
<text x="483.2" y="380.3" font-size="9.2" font-family="Liberation Sans, Arial, sans-serif" fill="#222">x</text>
</svg>
</body></html>
